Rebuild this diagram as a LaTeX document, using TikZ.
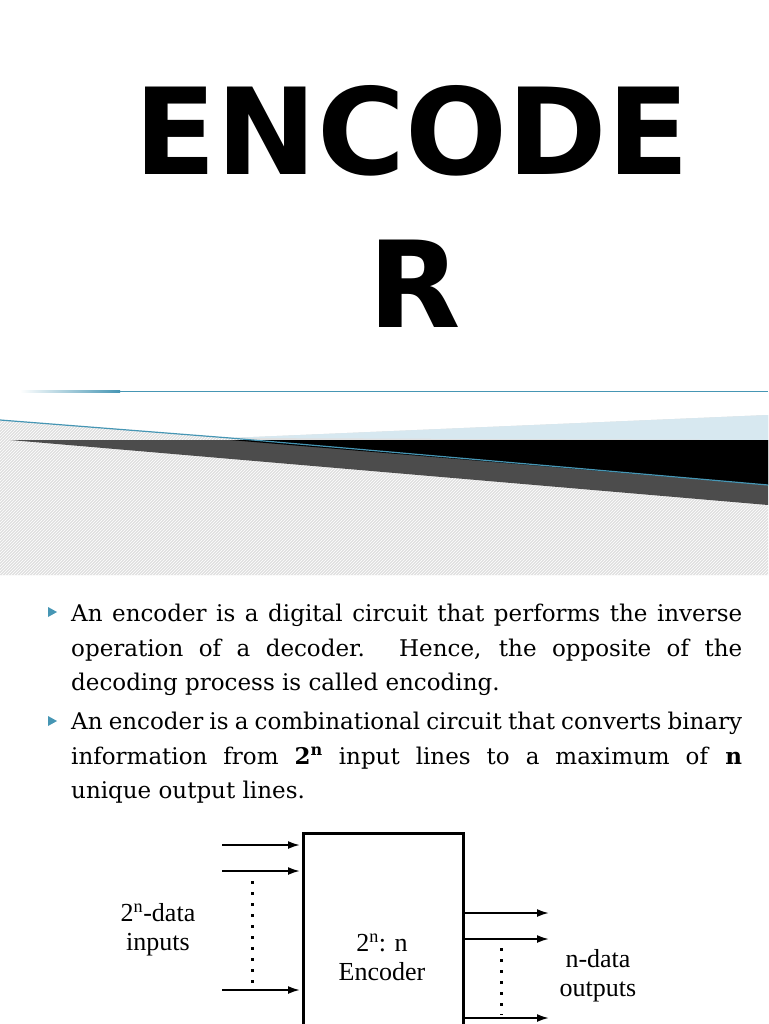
\documentclass[tikz,border=0pt]{standalone}
\usepackage{fontspec}
\setmainfont{DejaVu Serif}
\newfontfamily\titlefont{DejaVu Sans}
\newfontfamily\diafont{Liberation Serif}
\usetikzlibrary{patterns,arrows.meta}
\definecolor{teal1}{RGB}{70,150,180}
\definecolor{lblue}{RGB}{215,232,240}
\begin{document}
\begin{tikzpicture}[x=1pt,y=-1pt,
  arr/.style={-{Latex[length=12pt,width=8pt]},line width=2pt},
  dots/.style={line width=3pt,dash pattern=on 3pt off 8pt},
  body/.style={anchor=north west,text width=671pt,align=justify,inner sep=0pt,font=\fontsize{23}{34.5}\selectfont},
  bul/.style={fill=teal1,draw=none},
  lab/.style={font=\diafont\fontsize{26}{29}\selectfont,align=center,inner sep=0pt}]
\useasboundingbox (0,0) rectangle (768,1024);
\fill[white] (0,0) rectangle (768,1024);
% title
\node (t1) at (412,131) {\titlefont\bfseries\fontsize{120}{120}\selectfont ENCODE};
\node (t2) at (415,284) {\titlefont\bfseries\fontsize{120}{120}\selectfont R};
% rule
\shade[left color=white,right color=teal1] (20,390.5) rectangle (120,392);
\fill[teal1] (120,390.5) rectangle (768,392);
% band
\fill[gray!25] (0,420) -- (230,438) -- (768,415) -- (768,575) -- (0,575) -- cycle;
\fill[pattern=north east lines,pattern color=white] (0,420) -- (230,438) -- (768,485) -- (768,575) -- (0,575) -- cycle;
\fill[lblue] (230,438) -- (768,415) -- (768,440) -- cycle;
\fill[gray!60!black] (10,440) -- (768,440) -- (768,505) -- cycle;
\fill[black] (230,440) -- (768,440) -- (768,485) -- cycle;
\draw[teal1,line width=1.2pt] (0,420) -- (230,438) -- (768,485);
% bullets
\fill[bul] (48,607) -- (57,612) -- (48,617) -- cycle;
\fill[bul] (48,716) -- (57,721) -- (48,726) -- cycle;
\node[body] (p1) at (71,604) {An encoder is a digital circuit that performs the inverse\linebreak operation of a decoder. Hence, the opposite of the\linebreak decoding process is called encoding.};
\node[body] (p2) at (71,712) {An encoder is a combinational circuit that converts binary\linebreak information from \textbf{2\textsuperscript{n}} input lines to a maximum of \textbf{n}\linebreak unique output lines.};
% diagram
\draw[line width=3pt] (303,1030) |- (463,833) -- (463,1030);
\foreach \y/\n in {845/a,871/b,990/c}{
  \coordinate (i\n) at (222,\y); \coordinate (j\n) at (300,\y);
  \draw[arr] (i\n) -- (j\n);}
\foreach \y/\n in {913/a,939/b,1018/c}{
  \coordinate (o\n) at (464,\y); \coordinate (p\n) at (549,\y);
  \draw[arr] (o\n) -- (p\n);}
\coordinate (d1) at (252,881); \coordinate (d2) at (252,988);
\draw[dots] (d1) -- (d2);
\coordinate (d3) at (501,948); \coordinate (d4) at (501,1015);
\draw[dots] (d3) -- (d4);
\node[lab] (li) at (158,930) {2\textsuperscript{n}-data\\inputs};
\node[lab] (lb) at (382,957) {2\textsuperscript{n}: n\\Encoder};
\node[lab] (lo) at (598,976) {n-data\\outputs};
\end{tikzpicture}
\end{document}
